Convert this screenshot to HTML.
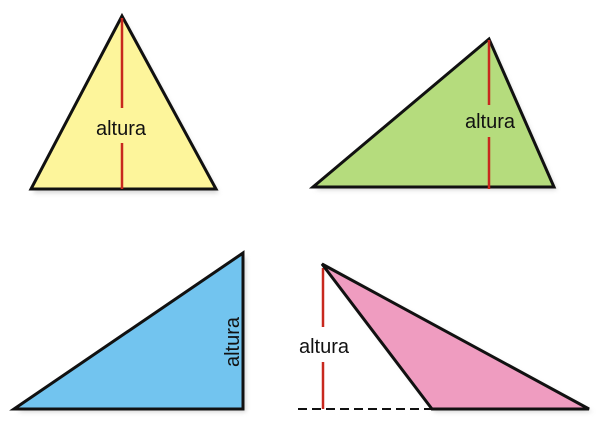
<!DOCTYPE html>
<html><head><meta charset="utf-8"><style>
html,body{margin:0;padding:0;background:#fff;}
svg{display:block;}
text{font-family:"Liberation Sans",sans-serif;font-size:20px;fill:#111;}
</style></head><body>
<svg width="600" height="423" viewBox="0 0 600 423">
<defs><filter id="s" x="-10%" y="-10%" width="120%" height="120%"><feGaussianBlur stdDeviation="2"/></filter></defs>
<g fill="#bbb" opacity="0.6" filter="url(#s)">
<polygon points="124,19 33,193 219,193"/>
<polygon points="491,42 315,190 557,190"/>
<polygon points="17,412 246,256 246,412"/>
<polygon points="325,266 435,412 593,412"/>
</g>
<polygon points="122,16 31,189 216,189" fill="#fdf59b" stroke="#111" stroke-width="3" stroke-linejoin="miter"/>
<line x1="122" y1="18" x2="122" y2="108" stroke="#c8281e" stroke-width="2.5"/>
<line x1="122" y1="143" x2="122" y2="189" stroke="#c8281e" stroke-width="2.5"/>
<text x="121" y="135" text-anchor="middle">altura</text>

<polygon points="489,39 313,187 554,187" fill="#b5dc7d" stroke="#111" stroke-width="3"/>
<line x1="489" y1="40" x2="489" y2="105" stroke="#c8281e" stroke-width="2.5"/>
<line x1="489" y1="137" x2="489" y2="189" stroke="#c8281e" stroke-width="2.5"/>
<text x="490" y="128" text-anchor="middle">altura</text>

<polygon points="14,409 243,253 243,409" fill="#72c4ef" stroke="#111" stroke-width="3"/>
<text x="0" y="0" text-anchor="middle" transform="translate(239,342) rotate(-90)">altura</text>

<line x1="298" y1="409" x2="432" y2="409" stroke="#111" stroke-width="2" stroke-dasharray="9,5"/>
<line x1="323" y1="268" x2="323" y2="327" stroke="#c8281e" stroke-width="2.5"/>
<line x1="323" y1="362" x2="323" y2="409" stroke="#c8281e" stroke-width="2.5"/>
<text x="324" y="353" text-anchor="middle">altura</text>
<polygon points="322,264 432,409 589,409" fill="#ef9cc0" stroke="#111" stroke-width="3"/>
</svg>
</body></html>
